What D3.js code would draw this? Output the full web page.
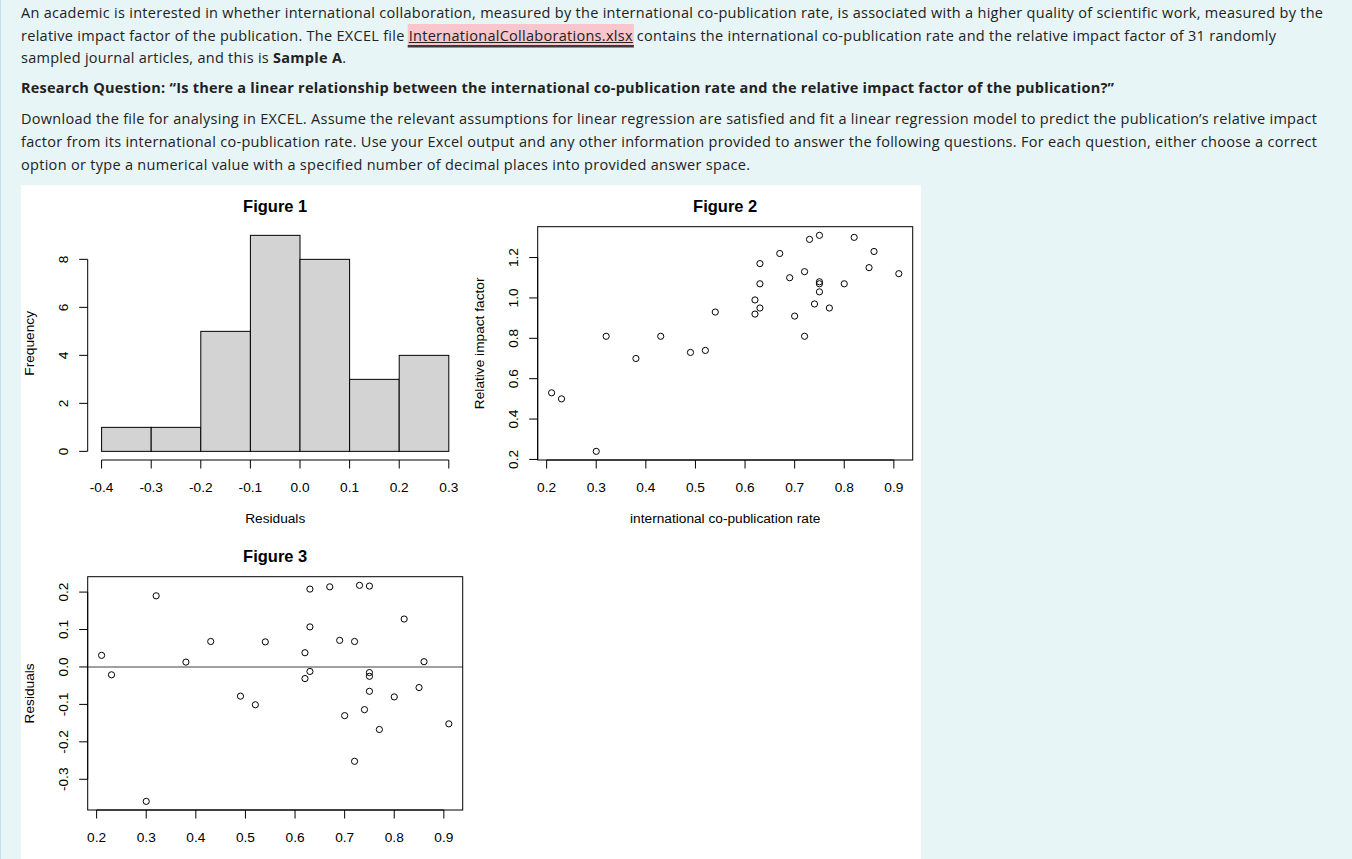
<!DOCTYPE html>
<html>
<head>
<meta charset="utf-8">
<script src="https://cdn.jsdelivr.net/npm/d3@7"></script>
<style>
  html, body { margin: 0; padding: 0; background: #e7f5f7; }
  svg { display: block; }
</style>
</head>
<body>
<div id="page"></div>
<script>
// international co-publication rate (x) and relative impact factor (y), 31 articles
const copubRate = [0.21, 0.23, 0.30, 0.32, 0.38, 0.43, 0.49, 0.52, 0.54, 0.62, 0.62, 0.63, 0.63, 0.63, 0.67, 0.69,
                   0.70, 0.72, 0.72, 0.73, 0.74, 0.75, 0.75, 0.75, 0.75, 0.77, 0.80, 0.82, 0.85, 0.86, 0.91];
const impactFactor = [0.53, 0.50, 0.24, 0.81, 0.70, 0.81, 0.73, 0.74, 0.93, 0.99, 0.92, 1.17, 1.07, 0.95, 1.22, 1.10,
                      0.91, 1.13, 0.81, 1.29, 0.97, 1.31, 1.08, 1.07, 1.03, 0.95, 1.07, 1.30, 1.15, 1.23, 1.12];
const residuals = [0.031, -0.021, -0.359, 0.190, 0.013, 0.068, -0.078, -0.101, 0.067, 0.038, -0.031, 0.208, 0.107, -0.012,
                   0.214, 0.071, -0.130, 0.068, -0.252, 0.218, -0.114, 0.216, -0.015, -0.025, -0.065, -0.167, -0.080,
                   0.128, -0.055, 0.014, -0.152];

// histogram breaks and tick labels
const histDomain = [-0.4, 0.3];
const histBreaks = [-0.3, -0.2, -0.1, 0, 0.1, 0.2];
const histXTicks = [-0.4, -0.3, -0.2, -0.1, 0, 0.1, 0.2, 0.3];
const histYTicks = [0, 2, 4, 6, 8];
const rateTicks = [0.2, 0.3, 0.4, 0.5, 0.6, 0.7, 0.8, 0.9];
const impactTicks = [0.2, 0.4, 0.6, 0.8, 1.0, 1.2];
const residTicks = [-0.3, -0.2, -0.1, 0.0, 0.1, 0.2];

// question text, one entry per rendered line
const textLines = [
  { y: 18, end: 1323, parts: [{ t: "An academic is interested in whether international collaboration, measured by the international co-publication rate, is associated with a higher quality of scientific work, measured by the" }] },
  { y: 41, end: 1276, parts: [{ t: "relative impact factor of the publication. The EXCEL file " }, { t: "InternationalCollaborations.xlsx", link: true }, { t: " contains the international co-publication rate and the relative impact factor of 31 randomly" }] },
  { y: 63, end: 346, parts: [{ t: "sampled journal articles, and this is " }, { t: "Sample A", bold: true }, { t: "." }] },
  { y: 93, end: 1114, parts: [{ t: "Research Question: \u201cIs there a linear relationship between the international co-publication rate and the relative impact factor of the publication?\u201d", bold: true }] },
  { y: 124, end: 1317, parts: [{ t: "Download the file for analysing in EXCEL. Assume the relevant assumptions for linear regression are satisfied and fit a linear regression model to predict the publication\u2019s relative impact" }] },
  { y: 147, end: 1317, parts: [{ t: "factor from its international co-publication rate. Use your Excel output and any other information provided to answer the following questions. For each question, either choose a correct" }] },
  { y: 170, end: 750, parts: [{ t: "option or type a numerical value with a specified number of decimal places into provided answer space." }] }
];

const W = 1352, H = 859;
const rFont = "'Liberation Sans', Arial, sans-serif";
const fmt1 = d => d.toFixed(1);

const svg = d3.select("#page").append("svg")
    .attr("width", W)
    .attr("height", H);

svg.append("rect").attr("width", W).attr("height", H).attr("fill", "#e7f5f7");
svg.append("line").attr("x1", 0.5).attr("x2", 0.5).attr("y1", 0).attr("y2", H)
    .attr("stroke", "#c3e3ea").attr("stroke-width", 1);

// ---- question text ----
const textG = svg.append("g")
    .attr("font-family", "'Open Sans', 'Noto Sans', sans-serif")
    .attr("font-size", 14.5)
    .attr("fill", "#222");

textLines.forEach(line => {
  const t = textG.append("text").attr("x", 21).attr("y", line.y);
  line.parts.forEach(p => {
    const ts = t.append("tspan").text(p.t);
    if (p.bold) ts.attr("font-weight", 700);
    if (p.link) ts.attr("class", "link");
  });
  // stretch letter spacing so the line ends where the original does
  const nat = t.node().getComputedTextLength();
  const n = line.parts.reduce((s, p) => s + p.t.length, 0);
  t.attr("letter-spacing", ((line.end - 21) - nat) / (n - 1));
});

// pink highlight + underline behind the file link
textG.selectAll("tspan.link").each(function() {
  const b = this.getBBox();
  const parent = this.parentNode;
  const g = d3.select(parent.parentNode);
  g.insert("rect", () => parent)
      .attr("x", b.x - 1).attr("y", 24)
      .attr("width", b.width + 2).attr("height", 21)
      .attr("fill", "#f8c6cc");
  g.append("line")
      .attr("x1", b.x).attr("x2", b.x + b.width)
      .attr("y1", 42.5).attr("y2", 42.5)
      .attr("stroke", "#222").attr("stroke-width", 1);
  g.append("rect")
      .attr("x", b.x - 1).attr("y", 45)
      .attr("width", b.width + 2).attr("height", 2.5)
      .attr("fill", "#3a3a3a");
});

// white panel holding the figures
svg.append("rect").attr("x", 21).attr("y", 185).attr("width", 900).attr("height", H - 185).attr("fill", "#fff");

// R style expanded domain (4% each side)
function rDomain(lo, hi) {
  const pad = (hi - lo) * 0.04;
  return [lo - pad, hi + pad];
}

const tickLen = 8.5;

function bottomAxis(g, scale, ticks, yPos, fmt) {
  const a = g.append("g").attr("transform", "translate(0," + yPos + ")");
  a.append("line")
      .attr("x1", scale(ticks[0])).attr("x2", scale(ticks[ticks.length - 1]))
      .attr("stroke", "#000");
  const t = a.selectAll(".tk").data(ticks).enter().append("g")
      .attr("transform", d => "translate(" + scale(d) + ",0)");
  t.append("line").attr("y2", tickLen).attr("stroke", "#000");
  t.append("text").attr("y", 31.5).attr("text-anchor", "middle").text(fmt);
}

function leftAxis(g, scale, ticks, xPos, fmt) {
  const a = g.append("g").attr("transform", "translate(" + xPos + ",0)");
  a.append("line")
      .attr("y1", scale(ticks[0])).attr("y2", scale(ticks[ticks.length - 1]))
      .attr("stroke", "#000");
  const t = a.selectAll(".tk").data(ticks).enter().append("g")
      .attr("transform", d => "translate(0," + scale(d) + ")");
  t.append("line").attr("x2", -tickLen).attr("stroke", "#000");
  t.append("text").attr("transform", "rotate(-90)").attr("y", -19.8)
      .attr("text-anchor", "middle").text(fmt);
}

function frame(left, top) {
  const g = svg.append("g")
      .attr("font-family", rFont)
      .attr("font-size", 13.7)
      .attr("fill", "#000");
  return { g: g, left: left, top: top, right: left + 375, bottom: top + 233.3 };
}

function titles(f, title, xlab, ylab) {
  const cx = (f.left + f.right) / 2, cy = (f.top + f.bottom) / 2;
  f.g.append("text").attr("x", cx).attr("y", f.top - 14.5)
      .attr("text-anchor", "middle").attr("font-weight", 700).attr("font-size", 16.5).text(title);
  if (xlab) f.g.append("text").attr("x", cx).attr("y", f.bottom + 63).attr("text-anchor", "middle").text(xlab);
  if (ylab) f.g.append("text").attr("transform", "translate(" + (f.left - 53.5) + "," + cy + ") rotate(-90)")
      .attr("text-anchor", "middle").text(ylab);
}

// ---- Figure 1: histogram of residuals ----
{
  const f = frame(87.7, 226.7);
  const bins = d3.bin().domain(histDomain).thresholds(histBreaks)(residuals);
  const x = d3.scaleLinear().domain(rDomain(histDomain[0], histDomain[1])).range([f.left, f.right]);
  const y = d3.scaleLinear().domain(rDomain(0, d3.max(bins, b => b.length))).range([f.bottom, f.top]);

  f.g.selectAll(".bar").data(bins).enter().append("rect")
      .attr("x", d => x(d.x0)).attr("width", d => x(d.x1) - x(d.x0))
      .attr("y", d => y(d.length)).attr("height", d => y(0) - y(d.length))
      .attr("fill", "#d3d3d3").attr("stroke", "#000").attr("stroke-width", 1);

  bottomAxis(f.g, x, histXTicks, f.bottom, fmt1);
  leftAxis(f.g, y, histYTicks, f.left, d => d);
  titles(f, "Figure 1", "Residuals", "Frequency");
}

// ---- Figure 2: scatter of impact factor vs co-publication rate ----
{
  const f = frame(537.7, 226.7);
  const x = d3.scaleLinear().domain(rDomain(d3.min(copubRate), d3.max(copubRate))).range([f.left, f.right]);
  const y = d3.scaleLinear().domain(rDomain(d3.min(impactFactor), d3.max(impactFactor))).range([f.bottom, f.top]);

  f.g.selectAll(".pt").data(copubRate).enter().append("circle")
      .attr("cx", d => x(d)).attr("cy", (d, i) => y(impactFactor[i])).attr("r", 3.1)
      .attr("fill", "none").attr("stroke", "#000").attr("stroke-width", 1);

  f.g.append("rect").attr("x", f.left).attr("y", f.top)
      .attr("width", f.right - f.left).attr("height", f.bottom - f.top)
      .attr("fill", "none").attr("stroke", "#000");
  bottomAxis(f.g, x, rateTicks, f.bottom, fmt1);
  leftAxis(f.g, y, impactTicks, f.left, fmt1);
  titles(f, "Figure 2", "international co-publication rate", "Relative impact factor");
}

// ---- Figure 3: residuals vs co-publication rate ----
{
  const f = frame(87.7, 576.7);
  const x = d3.scaleLinear().domain(rDomain(d3.min(copubRate), d3.max(copubRate))).range([f.left, f.right]);
  const y = d3.scaleLinear().domain(rDomain(d3.min(residuals), d3.max(residuals))).range([f.bottom, f.top]);

  f.g.append("line").attr("x1", f.left).attr("x2", f.right)
      .attr("y1", y(0)).attr("y2", y(0))
      .attr("stroke", "#808080").attr("stroke-width", 1.5);

  f.g.selectAll(".pt").data(copubRate).enter().append("circle")
      .attr("cx", d => x(d)).attr("cy", (d, i) => y(residuals[i])).attr("r", 3.1)
      .attr("fill", "none").attr("stroke", "#000").attr("stroke-width", 1);

  f.g.append("rect").attr("x", f.left).attr("y", f.top)
      .attr("width", f.right - f.left).attr("height", f.bottom - f.top)
      .attr("fill", "none").attr("stroke", "#000");
  bottomAxis(f.g, x, rateTicks, f.bottom, fmt1);
  leftAxis(f.g, y, residTicks, f.left, fmt1);
  titles(f, "Figure 3", null, "Residuals");
}
</script>
</body>
</html>
